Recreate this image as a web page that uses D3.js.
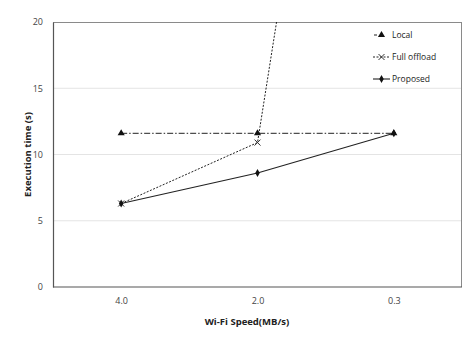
<!DOCTYPE html>
<html><head><meta charset="utf-8">
<script src="https://cdn.jsdelivr.net/npm/d3@7"></script>
<style>body{margin:0;background:#fff}text{font-family:"Open Sans",sans-serif}</style>
</head><body><svg id="c" width="474" height="338"></svg>
<script>
const categories = ["4.0", "2.0", "0.3"];
const localTime = [11.6, 11.6, 11.6];
const fullOffload = [6.3, 10.9, 76];
const proposed = [6.3, 8.6, 11.6];
const yTicks = [0, 5, 10, 15, 20];
const seriesNames = ["Local", "Full offload", "Proposed"];

const svg = d3.select("#c");
const L = 53, R = 462, T = 22, B = 287;
const x = d3.scalePoint().domain(categories).range([L, R]).padding(0.5);
const y = d3.scaleLinear().domain([0, 20]).range([B, T]);

// gridlines
svg.append("g").selectAll("line").data(yTicks.filter(d => d > 0 && d < 20)).join("line")
  .attr("x1", L).attr("x2", R).attr("y1", d => y(d)).attr("y2", d => y(d))
  .attr("stroke", "#e4e4e4").attr("stroke-width", 1);

// border
svg.append("line").attr("x1", L).attr("x2", R).attr("y1", T + 0.5).attr("y2", T + 0.5).attr("stroke", "#8a8a8a");
svg.append("line").attr("x1", R - 0.5).attr("x2", R - 0.5).attr("y1", T).attr("y2", B).attr("stroke", "#8a8a8a");

// axes
const yAxis = svg.append("g").attr("transform", `translate(${L},0)`)
  .call(d3.axisLeft(y).tickValues(yTicks).tickSize(0).tickPadding(10));
yAxis.select(".domain").attr("stroke", "#555").attr("stroke-width", 1.2);
yAxis.selectAll("text").attr("font-size", 9).attr("fill", "#444");

const xAxis = svg.append("g").attr("transform", `translate(0,${B})`)
  .call(d3.axisBottom(x).tickSize(0).tickPadding(11));
xAxis.select(".domain").attr("stroke", "#555").attr("stroke-width", 1.2).attr("d", `M${L},0H${R}`);
xAxis.selectAll("text").attr("font-size", 9).attr("fill", "#444");

svg.append("text").attr("transform", `translate(31,${(T + B) / 2}) rotate(-90)`)
  .attr("text-anchor", "middle").attr("font-size", 9.5).attr("font-weight", "bold").attr("fill", "#222")
  .text("Execution time (s)");
svg.append("text").attr("x", 247).attr("y", 325).attr("text-anchor", "middle")
  .attr("font-size", 9.5).attr("font-weight", "bold").attr("fill", "#222").text("Wi-Fi Speed(MB/s)");

// clip
svg.append("clipPath").attr("id", "clip").append("rect").attr("x", L).attr("y", T).attr("width", R - L).attr("height", B - T);

const line = d3.line().x((d, i) => x(categories[i])).y(d => y(d));
const styles = [
  {data: localTime, dash: "6,2,1.5,2", w: 1, marker: "tri"},
  {data: fullOffload, dash: "2,1.5", w: 1, marker: "x"},
  {data: proposed, dash: null, w: 1.1, marker: "dia"}
];
const g = svg.append("g").attr("clip-path", "url(#clip)");
styles.forEach(s => {
  g.append("path").attr("d", line(s.data)).attr("fill", "none").attr("stroke", "#222")
    .attr("stroke-width", s.w).attr("stroke-dasharray", s.dash);
});

function marker(sel, type, cx, cy) {
  if (type === "tri") sel.append("path").attr("d", d3.symbol(d3.symbolTriangle, 22)()).attr("transform", `translate(${cx},${cy})`).attr("fill", "#111");
  else if (type === "x") sel.append("path").attr("d", "M-3,-3L3,3M-3,3L3,-3").attr("transform", `translate(${cx},${cy})`).attr("stroke", "#333").attr("stroke-width", 1);
  else sel.append("path").attr("d", d3.symbol(d3.symbolDiamond, 18)()).attr("transform", `translate(${cx},${cy})`).attr("fill", "#111");
}
styles.forEach(s => {
  s.data.forEach((v, i) => { if (v <= 20) marker(g, s.marker, x(categories[i]), y(v)); });
});

// legend
const ly = [35, 57, 79];
seriesNames.forEach((n, i) => {
  const s = styles[i];
  const lg = svg.append("g");
  if (i === 0) {
    lg.append("line").attr("x1", 374).attr("x2", 377).attr("y1", ly[i]).attr("y2", ly[i]).attr("stroke", "#222");
  } else {
    lg.append("line").attr("x1", 373).attr("x2", 390).attr("y1", ly[i]).attr("y2", ly[i])
      .attr("stroke", "#222").attr("stroke-width", s.w).attr("stroke-dasharray", s.dash);
  }
  marker(lg, s.marker, 381.5, ly[i]);
  lg.append("text").attr("x", 392).attr("y", ly[i] + 3).attr("font-size", 8.5).attr("fill", "#222").text(n);
});
</script></body></html>
